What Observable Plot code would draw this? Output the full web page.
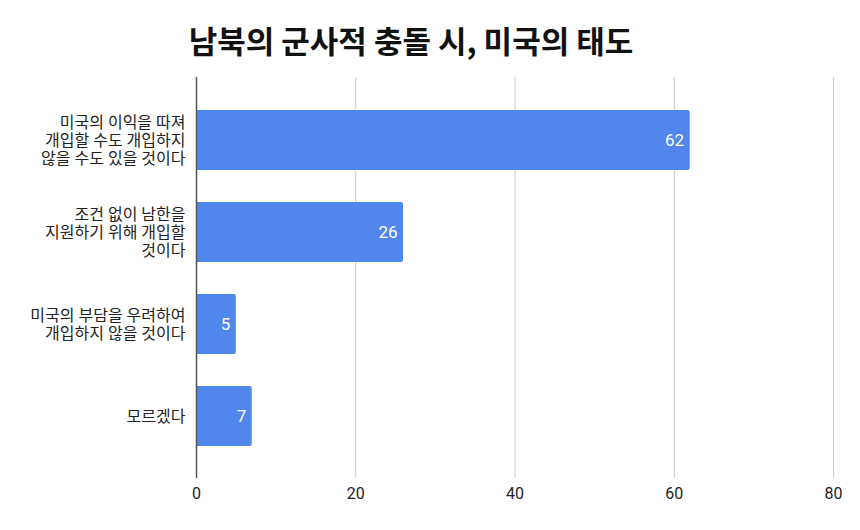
<!DOCTYPE html>
<html>
<head>
<meta charset="utf-8">
<script src="https://cdn.jsdelivr.net/npm/d3@7"></script>
<script src="https://cdn.jsdelivr.net/npm/@observablehq/plot@0.6"></script>
<style>
  html, body { margin: 0; padding: 0; background: #fff; }
  body { width: 860px; height: 530px; position: relative; overflow: hidden;
         font-family: Roboto, "Noto Sans CJK KR", sans-serif; }
  #title { position: absolute; left: 0; top: 24px; width: 860px; padding-right: 38px; box-sizing: border-box;
           text-align: center; font-size: 31px; line-height: 31px; font-weight: 700; color: #111;
           font-family: "Noto Sans CJK KR", sans-serif; }
  #chart { position: absolute; left: 0; top: 77px; }
</style>
</head>
<body>
<div id="title">남북의 군사적 충돌 시, 미국의 태도</div>
<div id="chart"></div>
<script>
const categories = [
  "미국의 이익을 따져\n개입할 수도 개입하지\n않을 수도 있을 것이다",
  "조건 없이 남한을\n지원하기 위해 개입할\n것이다",
  "미국의 부담을 우려하여\n개입하지 않을 것이다",
  "모르겠다"
];
const values = [62, 26, 5, 7];
const xTicks = [0, 20, 40, 60, 80];

const data = categories.map((c, i) => ({category: c, value: values[i]}));

const chart = Plot.plot({
  width: 860,
  height: 453,
  marginTop: 0,
  marginBottom: 52,
  marginLeft: 196,
  marginRight: 27,
  style: {fontFamily: 'Roboto, "Noto Sans CJK KR", sans-serif', color: "#222", background: "white"},
  x: {domain: [0, 80], ticks: xTicks},
  y: {domain: categories, paddingInner: 0.35, paddingOuter: 0, insetTop: 32, insetBottom: 31},
  marks: [
    Plot.gridX(xTicks, {stroke: "#cccccc", strokeOpacity: 1}),
    Plot.barX(data, {x: "value", y: "category", fill: "#5186ec", rx: 2}),
    Plot.ruleX([0], {stroke: "#555", strokeWidth: 1.5}),
    Plot.text(data, {x: "value", y: "category", text: d => String(d.value), textAnchor: "end", dx: -6, fill: "white", fontSize: 17}),
    Plot.axisX({ticks: xTicks, tickSize: 0, tickPadding: 9, fontSize: 16, label: null}),
    Plot.axisY({tickSize: 0, tickPadding: 11, fontSize: 16, lineHeight: 1.125, label: null})
  ]
});
document.getElementById("chart").appendChild(chart);
</script>
</body>
</html>
